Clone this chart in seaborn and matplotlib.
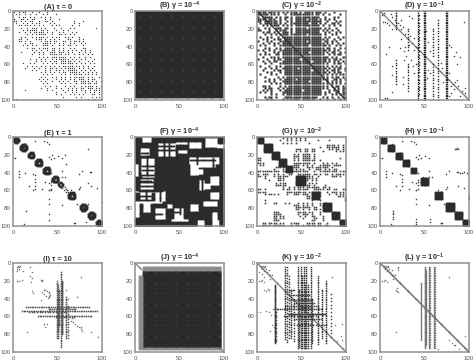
import numpy as np
import matplotlib
matplotlib.use('Agg')
import matplotlib.pyplot as plt
import seaborn as sns

sns.set_theme(style='white')
plt.rcParams['font.family'] = ['Liberation Sans', 'DejaVu Sans']
plt.rcParams['mathtext.fontset'] = 'custom'
plt.rcParams['mathtext.bf'] = 'Liberation Sans:bold'
plt.rcParams['mathtext.rm'] = 'Liberation Sans:bold'
plt.rcParams['mathtext.default'] = 'bf'

titles = ['(A) τ = 0', '(B) γ = $10^{-4}$', '(C) γ = $10^{-2}$', '(D) γ = $10^{-1}$',
          '(E) τ = 1', '(F) γ = $10^{-4}$', '(G) γ = $10^{-2}$', '(H) γ = $10^{-1}$',
          '(I) τ = 10', '(J) γ = $10^{-4}$', '(K) γ = $10^{-2}$', '(L) γ = $10^{-1}$']
x_ticks = [0, 50, 100]
y_ticks = [0, 20, 40, 60, 80, 100]
diagonal = list(range(101))

# spy maps, one char = 2.5 x 2.5 matrix cells
grid_a = [
    "x.x.xx..x..x...x........................",
    ".xx..x.x..x..x.x...x....................",
    "..x.xx.x.x..x.x.x.......................",
    "x..xx.x.xx....x.x...x...................",
    "xx.x.x.xx..x..xx.x.........x...x........",
    ".x..x.x.x.xx....x.x........x.x..........",
    "..xx.xxx.x.x.x...x.xx.....x..x..........",
    "...x..x.xxx.x.x...x..x...x.x.........x..",
    "....x.xxxxx.xx.x...x..x.x...............",
    "..x..x.x.xxxxx.x.x..x.x...x.x...........",
    "......x.x.xxxxx..x..xx.x.x.x............",
    "...x.x..x.xxxx.x.x.xx..xx.x..x..........",
    "..xx..x...xxx.x.x.x.x...xx...x.x........",
    "..xx.x.x....x.xxx.xx..xx.x.xxx.x........",
    ".....x.xx....xxxx.x.x.x..x.x..x.x.......",
    "....x.x.x.x..xxx.x..x.x.xx..x..x........",
    "......x.xx.x.xxx.xx.x.x..x.x...xx.......",
    "........x.x.x..x.xx.x.x.x.x.x.x.x.x.....",
    "...x.....x.x.x..xxx.xxx.x.x..x..x.x.....",
    "........x..x.x..xxxxxx.xx..x.x.x.x.x....",
    "...........x.x.x.xxxxxxx.x.x.x..x.x.....",
    ".......x..x.x.x..x.xxxxxx.x.x.x.x...x...",
    "..........x.x.x.x.xx.xxxxx.x.x...x.x....",
    "....x..x.x...x.x.x.x.xxxxxx.x.x.x.x.x...",
    "......x.x.x.x.x.x.x.x.xxxxx.xx.x.x..x...",
    ".....x...x.x..x.xx.x.x.xxxxx.x.x.x.x....",
    "........x.x...x.x..xx.x.xxxxx.x.x.x.x...",
    "............x.x.x.x.x.xx.xxxxx.x.x.x.x..",
    ".............x.x.x...x.x.x.xxxx.xx.x.x..",
    "............x.x..x.x.x.x.x.xxxxx.x.x..x.",
    "...........x.x.x...x.x.x.x.x.xxx.x.xx...",
    "............x.x..x..x.x.x..xx.xxxx.x.x.x",
    ".............x.x.....x.x.x..x.xxxxx.xx..",
    "..............x.x..x...x.x.x..x.xxxx.x.x",
    "............x..x...x.x..x.x.x.xx.xxx.xx.",
    ".....x.........x.x....x.x.x.x.x.x.x.xxx.",
    "...................x...x..x.x...x.x.x.x.",
    "...................x.x...x.x.x.x...xx.x.",
    "......................x.....x.x....x.xx.",
    ".x...............................x..x..x",
]

grid_c = [
    "xxxx.xxx.x.x.x.xxx.x.xxxx.xxx.x...x.....",
    "xxxxx.xx.x..x..xxxxxxxxxx.xx.x..x....x..",
    "x.xxxxx.x.x.xx.x.xxxxxxxxxxx..x...x.x...",
    "xxxx.xxx..x.x..x.xxxxx.xxxx.x.x.x.x.....",
    "xx.xxxxxx.x..x.x.xxxxxxxxxxxx..x...x.x..",
    ".x.xx.xxx.x.x..xxxxxxxx.xxx.x.x..xx.x...",
    "..x.x.xxxx.x.x.x.xxxxxxxxxxx.x..x.x..x..",
    "x..x.x..xxx.xx.x.xxxxx.xxxxxx.x.x..x....",
    "xx...x..x.xxx..x.xxxxxxxxxxx.x.x.x..x...",
    "..x.xx.x.x.xxx.x.xxxxxxxxxxx..x.x..x.x..",
    "...x..x.x.xxxx.xxxxxxx.xxxxxx.x..x.x....",
    ".x..x.x..x.xxxxxxxxxxxxxxxxxx.x.x...x.x.",
    "..x.x..x.xx.xxxxxxxxxxxxxxxxxx.x..x..x..",
    "x...x.x...xxxxxxxxxxxx.xxxxxx.xx.x.x....",
    "..x..x.x.x.xxxxxxxxxxxxxxxxxxx.x.x..x.x.",
    ".x.x...x..xxxxxxxxxxxxx.xxxxxxx.x..x.x..",
    "...x.x..x.x.xxxxxxxxxxxxxxxxxx.xx.x..x.x",
    "x.x..x.x..xxxxxxxxxxxxxxxxxxxxx.x.x.x...",
    "...x...x.x.xxxxxxx.xxxx.xxxxxx.x.xx..x.x",
    ".x.x.x..xx.xxxxxxxxxxxxxxxxxxx..x.x.xx..",
    "..x...xx.x.xxxxxxxxxxxxxxxxxxxxx.x.x..xx",
    "x...x..x.xx.xxxxxxx.xxxxxxxxxxx.x.xx.x..",
    "..x..x.xx..xxxxxxxxxxxxx.xxxxxx.x.x.x.x.",
    "...x..x...xxxxxxxxxxxxxxxxxxxx.x..x.xx.x",
    ".x...x..x.x.xxxxxxxxxxxxxxxxxx.x.x.x.x..",
    "...x..x.x..xxxxxxx.xxxxxxxxxxxx.x.x.xx.x",
    "..x....x.xx.xxxxxxxxxxxx.xxxxx.x.xx.x..x",
    "....x.x...x.xxxxxxxxxxxxxxxxxxx.x.x.xx..",
    ".x....x.x...xxxxxxxxxxxxxxxxxx.x.x.x.xx.",
    "...x.....x.x.xxxxxxxxxxxxxxxxx.x.x.xx.x.",
    ".....x.x..x.xxxxx.xxxxxxxxxxxx.x..xx.x.x",
    "...x.x.x...xxxxxxxxxxxx.xxxxx..x.x.x.x..",
    "......x.x.x.xxxxxxxxxxxxxxxxxx.x.x.x.x.x",
    "..xx.x....x.x.xxxxxxxxxxxxxxxx.x.x.xx.x.",
    "...x.xx..x.x.xxxxxxxxxxxxxxxxx.x..x.x.xx",
    "..x.x.x...x.xxxxxxxx.xxxxxxxx...x.x.x.x.",
    ".x.x..x....xxxxxxxxxxxxxxxxxx.x.x..xx.xx",
    "......x.x..x.xxxxxxxxxxxxxxxx.x..x.x.xxx",
    "...x.xx.x...xxxxxxxxxxxxxxx..x.x.x..x.xx",
    "....x.x....x.x.xxxx.xxxxxx..x..x..x..x.x",
]

grid_g = [
    "...........x.x.x.x.x.x..................",
    "..........x..x.x.x.x.x.....x....x.......",
    "...........x.x.x.x.....x................",
    "...............................xxxx.x.x.",
    "............................x..xxxxxx.x.",
    ".................xxx.xx.xx......xx.xx.x.",
    ".................x.x.xx.xx...x.....x.xx.",
    "................x.x.xxxx.x..............",
    "................xxx.xxxx.x..............",
    "xx..............x.x.xxxx.x...........x..",
    "xx..............x.x.xxxxxx..x...........",
    "xxx.............xxxxxxxx.x...x.x.x.x....",
    ".xx.............xxx.x.x.x...xxxxx.xxxx..",
    "........xxxxxxx.xxx...xxx.xxxxxx.x......",
    ".......x...x.x.x.x.xx..x..xxx.x.x.xx....",
    "xxxxxxxxxx.xxxxxxxxxxxx..x..xxxxxxxx.xxx",
    "x.xxx..x.x.x..xx..xxxxxx.xx.x.xx.x.xxxx.",
    "xx.x...x.xxxxx....xxxxxxx..x.....xxx.x..",
    "...x.....xxx......xxxxxxx.x.............",
    ".....x...xxx......xxxxx.x.x.............",
    "........x.xxx......x...xx.x.............",
    "........xxxxx.....x.x.xx.x....x.........",
    "...........x..x.x.xxx.xxxxxx.xx.x.......",
    "xx.x.......x.xx.x.xxxxx..xxxxx.xx.xx..xx",
    "xxxx.........xxxxxxxxx.xxxxxx..x.xxx.xx.",
    "...x.xxx.x...x..xxx.xxx.xx.xx...x..x.xx.",
    "......................xx....x.......xxx.",
    "......................xx.x.............x",
    "...x....................x...x..........x",
    "...x...xx...x.x...x.x.x.x...x.x.........",
    "................xxx.x.x.x...x...........",
    ".................xxxxxxx.xx..x..........",
    ".................xx.x..x.xx.x...........",
    ".......xxx........xxxx.xx...x...........",
    ".......xxxx.......x.xxx.x...x...........",
    ".......xx.xx.......x.x..xx...x..........",
    ".......xx.xx........x....xx..x..........",
    ".......xxx..............xx...x..........",
    "..xx.xxxx.xx...xxxx...xxxx.xx..x........",
    "..xx.x.xxxxx...x.xx.x.xxxx.xx.xx........",
]

# panel F: white rectangles on the dark matrix, then thin dark bars back on top
f_white_r0 = [0, 7, 7, 5, 5, 1, 22, 24, 30, 34, 44, 60, 62, 75, 75, 80, 80, 75, 62, 84, 93, 93, 46, 12,
              52, 42, 72, 60, 36, 52, 30, 48, 72, 92, 75, 8, 14]
f_white_r1 = [6, 22, 22, 8, 13, 11, 30, 42, 44, 43, 54, 70, 72, 84, 90, 92, 92, 83, 70, 92, 100, 100, 50, 20,
              58, 45, 74, 62, 42, 58, 34, 60, 78, 95, 80, 12, 18]
f_white_c0 = [8, 26, 34, 46, 60, 78, 60, 7, 0, 62, 84, 5, 22, 9, 0, 22, 44, 62, 84, 86, 86, 70, 6, 6,
              6, 8, 0, 0, 70, 78, 62, 72, 76, 40, 36, 92, 48]
f_white_c1 = [18, 32, 45, 58, 74, 92, 94, 22, 4, 71, 94, 18, 34, 17, 5, 34, 54, 71, 94, 92, 94, 78, 20, 16,
              20, 22, 30, 34, 76, 84, 90, 78, 92, 60, 42, 100, 58]
f_bar_row = [15, 33, 37, 26, 66, 46, 49, 86, 84, 10, 18, 55, 43, 61]
f_bar_first = [26, 8, 8, 62, 5, 6, 6, 22, 44, 26, 7, 6, 8, 4]
f_bar_last = [45, 22, 20, 90, 18, 20, 18, 30, 50, 44, 15, 20, 22, 30]
f_bar_col = [38, 70, 14, 12, 28, 50, 75, 88]
f_bar_top = [7, 22, 24, 60, 62, 80, 48, 24]
f_bar_bottom = [22, 30, 42, 70, 72, 86, 60, 34]

# dark blocks along the diagonal: first and last matrix index
e_block_start = [0, 8, 17, 25, 34, 44, 51, 62, 75, 84, 93]
e_block_end = [7, 16, 24, 33, 42, 51, 56, 70, 83, 92, 100]
g_block_start = [0, 8, 17, 25, 33, 44, 62, 74, 84, 93]
g_block_end = [7, 17, 25, 33, 39, 54, 70, 83, 92, 100]
h_block_start = [0, 9, 18, 26, 35, 46, 62, 74, 84, 93]
h_block_end = [7, 16, 25, 33, 40, 54, 70, 83, 92, 100]

# single entries: column and row lists
e_cols = [25, 0, 2, 7, 7, 7, 14, 14, 14, 14, 18, 22, 22, 25, 25, 35, 38, 40, 40, 43, 46,
          40, 40, 50, 55, 25, 33, 40, 43, 48, 55, 55, 35, 43, 25, 25, 36, 40, 43, 43, 43,
          84, 86, 88, 74, 74, 78, 88, 94, 100, 58, 65, 74, 75, 72, 82, 84, 84, 15, 40, 40,
          68, 70, 12, 43, 40, 55, 44, 60, 58, 56, 58, 60, 61, 55, 57, 59, 62]
e_rows = [4, 24, 24, 38, 42, 45, 8, 8, 12, 40, 55, 60, 42, 50, 58, 5, 6, 8, 22, 25, 24,
          60, 70, 21, 24, 55, 58, 60, 50, 45, 45, 38, 40, 40, 43, 47, 50, 52, 54, 58, 60,
          14, 39, 39, 42, 58, 38, 55, 57, 73, 45, 60, 58, 56, 75, 95, 75, 52, 83, 86, 93,
          97, 97, 98, 48, 75, 76, 20, 30, 20, 55, 56, 58, 60, 57, 60, 62, 62]
h_cols = [25, 25, 0, 2, 7, 7, 7, 14, 14, 14, 15, 15, 18, 22, 22, 25, 35, 38, 40, 40, 43, 46,
          40, 40, 50, 55, 25, 33, 40, 43, 48, 55, 55, 35, 43, 25, 25, 36, 40, 43, 43, 84,
          86, 88, 90, 92, 94, 98, 74, 78, 88, 94, 100, 58, 65, 74, 75, 72, 15, 15, 15, 40,
          40, 40, 56, 56, 68, 69, 70, 12, 43, 40, 55, 44, 88, 85, 86, 100, 100]
h_rows = [0, 5, 24, 24, 38, 42, 45, 8, 12, 40, 83, 87, 55, 60, 42, 50, 5, 6, 8, 22, 25, 24,
          60, 70, 21, 24, 55, 58, 60, 50, 45, 45, 38, 40, 40, 43, 47, 50, 52, 54, 58, 14,
          39, 39, 40, 40, 39, 40, 42, 38, 55, 57, 66, 45, 60, 58, 56, 75, 90, 92, 85, 92,
          95, 98, 92, 95, 97, 97, 97, 98, 48, 75, 76, 20, 14, 13, 12, 67, 70]
d_cols = [2, 4, 6, 8, 10, 12, 14, 14, 17, 20, 24, 24, 28, 33, 33, 36, 38, 38, 27, 27, 10, 7,
          3, 14, 18, 22, 26, 26, 29, 31, 35, 37, 38, 54, 54, 56, 56, 68, 70, 71, 78, 78,
          80, 80, 83, 85, 87, 90, 94, 96, 96, 83, 90, 6, 8, 14, 14, 22, 24, 26, 28, 34, 36,
          40, 40, 52, 53, 82, 84, 86, 88, 92, 80, 78]
d_rows = [5, 2, 12, 14, 16, 3, 7, 20, 10, 14, 10, 32, 40, 6, 38, 8, 30, 44, 45, 55, 40, 48,
          12, 72, 74, 42, 74, 82, 50, 62, 55, 62, 70, 35, 66, 45, 70, 58, 64, 80, 38, 70,
          40, 84, 50, 46, 60, 52, 12, 86, 92, 88, 95, 98, 98, 91, 62, 16, 20, 18, 26, 28, 36,
          40, 60, 22, 75, 82, 80, 78, 84, 90, 92, 96]
i_cols = [6, 4, 5, 7, 8, 7, 5, 11, 19, 19, 21, 21, 7, 5, 10, 20, 31, 33, 35, 36, 38, 40, 40,
          33, 35, 37, 39, 41, 42, 41, 33, 21, 23, 31, 35, 38, 36, 16, 65, 67, 70, 72, 74, 76,
          78, 62, 72, 82, 88, 96, 76, 66, 64, 60, 76]
i_rows = [3, 5, 7, 5, 3, 7, 9, 9, 5, 15, 10, 17, 20, 20, 19, 21, 19, 20, 30, 30, 32, 34, 37,
          33, 35, 37, 39, 38, 36, 33, 19, 31, 34, 42, 69, 69, 72, 77, 65, 66, 68, 71, 72, 74,
          76, 41, 38, 60, 78, 83, 16, 62, 60, 30, 72]
k_cols = [5, 6, 7, 8, 9, 10, 9, 8, 7, 6, 11, 13, 15, 15, 17, 2, 4, 6, 8, 8, 10, 12, 14, 14,
          0, 3, 10, 95, 94, 84, 18, 16, 17, 19, 15, 2, 6, 8, 90, 96, 88]
k_rows = [3, 5, 7, 9, 5, 7, 3, 5, 3, 7, 10, 8, 14, 18, 14, 20, 20, 19, 21, 30, 31, 29, 30, 55,
          55, 55, 54, 68, 82, 16, 52, 58, 70, 72, 76, 10, 12, 16, 88, 86, 70]
l_cols = [5, 6, 7, 8, 9, 10, 9, 8, 7, 6, 11, 13, 15, 15, 17, 2, 4, 6, 8, 20, 20, 20, 19, 20,
          78, 78, 83, 95, 65, 18, 19, 18, 81, 84, 89]
l_rows = [3, 5, 7, 9, 5, 7, 3, 5, 3, 7, 10, 8, 14, 18, 14, 20, 20, 19, 21, 4, 6, 8, 28, 33,
          16, 86, 92, 82, 97, 77, 32, 30, 90, 92, 97]

# stripes: fixed index, first index, last index, spacing
d_stripe = [18, 18, 31, 31, 43, 44, 49, 50, 59, 59, 65, 74, 75]
d_stripe_first = [0, 55, 20, 60, 0, 5, 0, 0, 20, 60, 10, 0, 0]
d_stripe_last = [20, 82, 45, 90, 100, 95, 100, 100, 50, 100, 100, 98, 98]
d_stripe_step = [2, 3, 3, 3, 2, 4, 2, 2, 3, 3, 3, 2, 2]
i_v_stripe = [49, 50, 51, 52, 54, 55, 60, 62]
i_v_first = [20, 25, 40, 30, 10, 20, 38, 48]
i_v_last = [85, 75, 85, 70, 95, 80, 85, 85]
i_v_step = [2, 2, 2, 2, 2, 1, 2, 3]
i_h_stripe = [49, 52, 54, 55, 60, 61]
i_h_first = [15, 40, 10, 18, 28, 48]
i_h_last = [85, 70, 95, 60, 88, 70]
i_h_step = [2, 2, 2, 3, 2, 3]
k_v_stripe = [20, 21, 32, 34, 36, 38, 42, 46, 47, 49, 50, 53, 54, 55, 57, 61, 62, 69, 73, 77, 83]
k_v_first = [25, 55, 5, 5, 15, 30, 40, 5, 30, 5, 15, 5, 25, 5, 25, 5, 40, 15, 30, 20, 35]
k_v_last = [90, 90, 85, 90, 85, 85, 90, 95, 95, 95, 95, 95, 95, 95, 95, 95, 90, 92, 85, 90, 85]
k_v_step = [1, 3, 2, 3, 3, 2, 3, 2, 2, 2, 2, 2, 2, 2, 2, 2, 2, 2, 2, 2, 4]
k_h_stripe = [30, 36, 42, 45, 48, 52, 57, 60, 63, 70]
k_h_first = [36, 36, 36, 42, 32, 20, 35, 30, 42, 45]
k_h_last = [42, 58, 62, 65, 68, 72, 76, 66, 72, 78]
k_h_step = [2, 2, 2, 2, 2, 2, 1, 3, 2, 3]
l_stripe = [46, 50, 51, 52, 55, 56, 61, 62]
l_stripe_first = [22, 5, 5, 8, 5, 5, 5, 5]
l_stripe_last = [86, 95, 95, 92, 95, 95, 95, 95]
l_stripe_step = [1, 1, 1, 1, 1, 2, 1, 2]

# lighter spots in the almost full panels
texture_cols = [6, 18, 30, 42, 54, 66, 78, 90]
texture_rows = [6, 18, 30, 42, 54, 66, 78, 90]
b_edge_cols = [10, 22, 35, 47, 60, 72, 85, 95, 99, 99, 99, 99]
b_edge_rows = [98, 98, 98, 98, 98, 98, 98, 98, 2, 30, 60, 90]

# full rectangles: first row, last row, first col, last col
b_rect = (0, 97, 0, 98)
j_dark = (9, 95, 9, 96)
j_gray = [(5, 8, 9, 96), (15, 97, 5, 8), (96, 97, 9, 96)]
j_corner = [0, 1, 2, 3, 4, 5, 6, 7, 97, 98, 99, 100]

DARK = '#2b2b2b'
GRAY = '#777777'
POINT = '#3d3d3d'


def spy(ax, cols, rows, size=1.0, color=POINT, marker='s'):
    # snap off, otherwise tiny markers all grow to whole pixels
    sns.scatterplot(x=cols, y=rows, s=size, color=color, marker=marker, linewidth=0, ax=ax, legend=False, snap=False)


def from_grid(grid):
    cols, rows = [], []
    for r, line in enumerate(grid):
        for c, ch in enumerate(line):
            if ch == 'x':
                cols.append(c * 2.5 + 1.25)
                rows.append(r * 2.5 + 1.25)
    return cols, rows


def from_stripes(fixed, first, last, step):
    a, b = [], []
    for f, s, e, st in zip(fixed, first, last, step):
        for v in range(s, e + 1, st):
            a.append(f)
            b.append(v)
    return a, b


def rect_points(rect):
    r0, r1, c0, c1 = rect
    cc, rr = np.meshgrid(np.arange(c0, c1 + 1), np.arange(r0, r1 + 1))
    return cc.ravel(), rr.ravel()


def draw_blocks(ax, start, end, diamond=False):
    for s, e in zip(start, end):
        cc, rr = rect_points((s, e, s, e))
        if diamond:
            m = (s + e) / 2
            dist = np.abs(cc - m) + np.abs(rr - m)
            keep = (dist <= (e - s) * 0.75) & (dist > 1.2)
            cc, rr = cc[keep], rr[keep]
        spy(ax, cc, rr, size=1.3, color=DARK)


fig = plt.figure(figsize=(4.74, 3.62), dpi=100)
lefts = [13, 135, 257, 380]
tops = [11, 137, 263]
axes = []
for i, title in enumerate(titles):
    left = lefts[i % 4]
    top = tops[i // 4]
    ax = fig.add_axes([left / 474, 1 - (top + 89) / 362, 89 / 474, 89 / 362])
    ax.set_title(title, fontsize=5.3, fontweight='bold', color='#333333', pad=1.5)
    axes.append(ax)

spy(axes[0], *from_grid(grid_a), size=0.75, color='#444444')

cc, rr = rect_points(b_rect)
spy(axes[1], cc, rr, size=1.3, color=DARK)
cc, rr = np.meshgrid(texture_cols, texture_rows)
spy(axes[1], cc.ravel(), rr.ravel(), size=1.5, color='#454545')
spy(axes[1], b_edge_cols, b_edge_rows, size=1.0, color=GRAY)

spy(axes[2], *from_grid(grid_c), size=2.3, color='#333333')
spy(axes[2], diagonal, diagonal, size=1.0, color=DARK)

spy(axes[3], diagonal, diagonal, size=1.0, color=GRAY)
spy(axes[3], *from_stripes(d_stripe, d_stripe_first, d_stripe_last, d_stripe_step), size=1.0, color=DARK)
spy(axes[3], d_cols, d_rows, size=0.9)

draw_blocks(axes[4], e_block_start, e_block_end, diamond=True)
spy(axes[4], e_cols, e_rows, size=1.0)

f_matrix = np.ones((101, 101))
for r0, r1, c0, c1 in zip(f_white_r0, f_white_r1, f_white_c0, f_white_c1):
    f_matrix[r0:r1 + 1, c0:c1 + 1] = 0
for r, c0, c1 in zip(f_bar_row, f_bar_first, f_bar_last):
    f_matrix[r, c0:c1 + 1] = 1
for c, r0, r1 in zip(f_bar_col, f_bar_top, f_bar_bottom):
    f_matrix[r0:r1 + 1, c] = 1
rr, cc = np.nonzero(f_matrix)
spy(axes[5], cc, rr, size=1.3, color=DARK)

spy(axes[6], *from_grid(grid_g), size=1.4)
draw_blocks(axes[6], g_block_start, g_block_end)

draw_blocks(axes[7], h_block_start, h_block_end)
spy(axes[7], h_cols, h_rows, size=1.0)

a, b = from_stripes(i_v_stripe, i_v_first, i_v_last, i_v_step)
spy(axes[8], a, b, size=1.2, color='#555555')
a, b = from_stripes(i_h_stripe, i_h_first, i_h_last, i_h_step)
spy(axes[8], b, a, size=1.2, color='#555555')
spy(axes[8], i_cols, i_rows, size=1.0, color=GRAY)

cc, rr = rect_points(j_dark)
spy(axes[9], cc, rr, size=1.3, color=DARK)
for band in j_gray:
    cc, rr = rect_points(band)
    spy(axes[9], cc, rr, size=1.3, color='#8c8c8c')
spy(axes[9], j_corner, j_corner, size=1.0, color=GRAY)
cc, rr = np.meshgrid(texture_cols, texture_rows)
spy(axes[9], cc.ravel() + 4, rr.ravel() + 4, size=1.5, color='#444444')

spy(axes[10], diagonal, diagonal, size=1.1, color=GRAY)
spy(axes[10], *from_stripes(k_v_stripe, k_v_first, k_v_last, k_v_step), size=1.1, color='#3a3a3a')
a, b = from_stripes(k_h_stripe, k_h_first, k_h_last, k_h_step)
spy(axes[10], b, a, size=1.1, color=POINT)
spy(axes[10], k_cols, k_rows, size=0.9, color=GRAY)

spy(axes[11], diagonal, diagonal, size=1.2, color='#666666')
spy(axes[11], *from_stripes(l_stripe, l_stripe_first, l_stripe_last, l_stripe_step), size=0.8, color=GRAY)
spy(axes[11], l_cols, l_rows, size=0.9, color=GRAY)

for ax in axes:
    ax.set_xlim(0, 100)
    ax.set_ylim(100, 0)
    ax.set_xticks(x_ticks)
    ax.set_yticks(y_ticks)
    ax.tick_params(length=0, labelsize=4.4, labelcolor='#555555')
    ax.tick_params(axis='x', pad=3)
    ax.tick_params(axis='y', pad=1.6)
    ax.set_xlabel('')
    ax.set_ylabel('')
    for spine in ax.spines.values():
        spine.set_color('#8f8f8f')
        spine.set_linewidth(1.1)
        spine.set_visible(True)

fig.savefig('out.png', dpi=100)
